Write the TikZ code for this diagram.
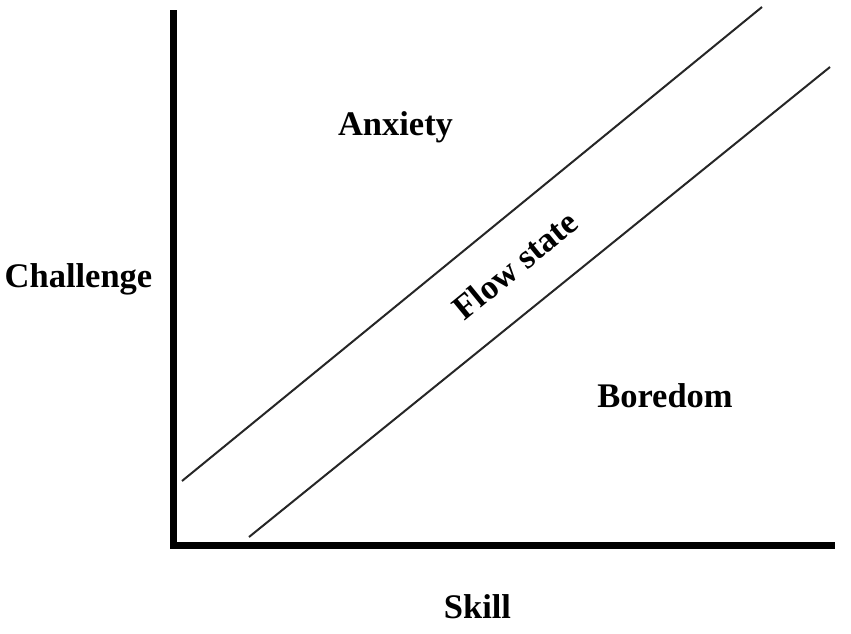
\documentclass[tikz,border=0pt]{standalone}
\usepackage{fontspec}
\setmainfont{Liberation Serif}
\usetikzlibrary{positioning}
\newcommand{\zonelabel}[1]{\fontsize{34.5}{40}\selectfont\bfseries #1}

\begin{document}
\begin{tikzpicture}[x=1pt, y=-1pt,
                    axis/.style={line width=7pt, line join=miter},
                    bound/.style={line width=2pt, draw=black!85},
                    every node/.style={inner sep=0pt, font=\zonelabel{}}]

    \useasboundingbox (0,0) rectangle (851,633);

    % axes
    \coordinate (top)    at (173.5,10);
    \coordinate (origin) at (173.5,545);
    \coordinate (right)  at (835,545);
    \draw[axis] (top) -- (origin) -- (right);

    % flow channel
    \coordinate (upA) at (182,481);
    \coordinate (upB) at (762,7);
    \coordinate (loA) at (249,537);
    \coordinate (loB) at (830,67);
    \draw[bound] (upA) -- (upB);
    \draw[bound] (loA) -- (loB);

    \node[anchor=base] (anxiety)   at (395.5,135) {Anxiety};
    \node[anchor=base] (challenge) at (78.5,287)  {Challenge};
    \node[anchor=base] (boredom)   at (665,407)   {Boredom};
    \node[anchor=base] (skill)     at (477.5,618) {Skill};
    \node[rotate=39.3] (flow)      at (515,265)   {Flow state};
\end{tikzpicture}
\end{document}
